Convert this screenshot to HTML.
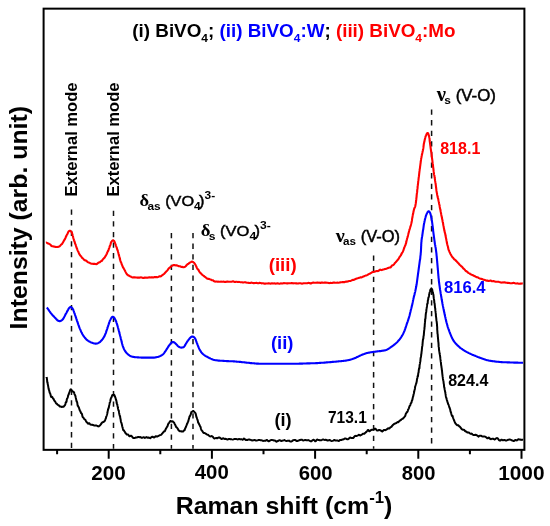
<!DOCTYPE html>
<html><head><meta charset="utf-8"><style>html,body{margin:0;padding:0;background:#fff;overflow:hidden;}svg{display:block;}</style></head>
<body><svg width="550" height="526" viewBox="0 0 550 526">
<rect width="550" height="526" fill="#fff"/>
<rect x="43.6" y="8.65" width="480.8" height="441.2" fill="none" stroke="#000" stroke-width="2.0"/>
<path d="M57.1,449.8 V454.3 M108.7,449.8 V458.8 M160.3,449.8 V454.3 M211.9,449.8 V458.8 M263.5,449.8 V454.3 M315.1,449.8 V458.8 M366.7,449.8 V454.3 M418.3,449.8 V458.8 M469.9,449.8 V454.3 M521.5,449.8 V458.8" stroke="#000" stroke-width="2" fill="none"/>
<path d="M71.5,209.5 V448.8 M113.5,210.7 V448.8 M171.4,233 V448.8 M193.0,233 V448.8 M373.6,255.5 V448.8 M431.6,109.5 V448.8" stroke="#111" stroke-width="1.5" stroke-dasharray="5.3,5.3" fill="none"/>
<path d="M46.0,242.8 L46.4,242.6 L47.0,242.9 L47.6,243.3 L48.2,243.6 L48.9,243.8 L49.6,244.1 L50.2,244.5 L50.9,245.2 L51.5,246.0 L52.2,246.2 L52.8,246.2 L53.5,246.5 L54.2,246.6 L54.9,246.7 L55.6,246.9 L56.4,247.0 L57.1,247.0 L57.8,246.9 L58.5,246.7 L59.2,246.4 L59.8,246.2 L60.3,245.6 L60.9,244.9 L61.4,244.3 L61.9,244.0 L62.3,243.5 L62.8,242.7 L63.2,242.0 L63.6,241.4 L63.9,240.6 L64.3,240.0 L64.7,239.5 L65.1,238.9 L65.4,238.2 L65.7,237.3 L66.1,236.4 L66.4,235.9 L66.7,235.2 L67.0,234.4 L67.4,234.0 L67.7,233.4 L68.0,232.6 L68.4,231.8 L68.7,231.3 L69.1,231.0 L69.6,230.8 L70.1,230.7 L70.6,230.9 L71.0,231.4 L71.4,231.8 L71.8,232.4 L72.0,233.2 L72.3,234.0 L72.5,234.6 L72.6,235.2 L72.8,235.9 L73.0,236.5 L73.2,237.5 L73.4,238.3 L73.6,238.8 L73.8,239.5 L74.0,240.3 L74.3,241.0 L74.5,241.5 L74.8,242.3 L75.0,243.4 L75.3,244.0 L75.5,244.4 L75.8,245.1 L76.0,246.0 L76.3,246.8 L76.5,247.6 L76.8,248.1 L77.1,248.8 L77.3,249.6 L77.6,250.4 L77.9,251.0 L78.2,251.5 L78.5,252.2 L78.9,253.2 L79.2,253.9 L79.6,254.5 L80.0,255.2 L80.4,255.7 L80.8,256.1 L81.3,256.6 L81.7,257.3 L82.2,258.0 L82.7,258.3 L83.3,258.8 L83.8,259.4 L84.4,260.0 L85.1,260.4 L85.7,260.5 L86.3,260.8 L87.0,261.4 L87.7,262.1 L88.3,262.4 L89.0,262.6 L89.7,262.9 L90.3,263.2 L91.0,263.5 L91.7,263.7 L92.5,263.8 L93.2,263.9 L93.9,263.9 L94.7,263.9 L95.4,264.0 L96.2,264.1 L96.9,264.0 L97.6,263.4 L98.3,262.8 L99.0,262.5 L99.6,262.3 L100.3,261.8 L100.9,261.3 L101.5,261.1 L102.0,260.7 L102.5,259.8 L103.0,259.1 L103.5,258.7 L103.9,258.3 L104.4,257.9 L104.8,257.4 L105.2,256.6 L105.6,255.9 L106.0,255.3 L106.3,254.8 L106.7,254.1 L107.0,253.3 L107.3,252.4 L107.7,251.6 L108.0,251.1 L108.3,250.6 L108.6,249.9 L108.8,249.0 L109.1,248.3 L109.4,247.6 L109.6,246.8 L109.8,246.0 L110.1,245.7 L110.3,245.2 L110.6,244.2 L110.8,243.2 L111.1,242.3 L111.4,241.7 L111.7,241.4 L112.1,240.9 L112.6,240.5 L113.1,240.3 L113.5,240.5 L113.9,240.8 L114.3,241.2 L114.6,241.9 L114.8,242.7 L115.1,243.4 L115.4,244.0 L115.7,244.7 L115.9,245.5 L116.2,246.4 L116.5,247.0 L116.7,247.7 L117.0,248.6 L117.2,249.4 L117.4,250.0 L117.7,250.4 L117.9,251.2 L118.1,252.0 L118.3,252.7 L118.5,253.6 L118.7,254.4 L118.9,255.1 L119.1,255.8 L119.3,256.6 L119.5,257.1 L119.7,257.8 L119.8,258.6 L120.0,259.4 L120.3,260.3 L120.5,261.1 L120.7,261.8 L121.0,262.2 L121.2,262.7 L121.5,263.5 L121.7,264.3 L122.0,264.9 L122.3,265.6 L122.6,266.4 L122.9,267.1 L123.3,267.7 L123.6,268.3 L123.9,268.9 L124.3,269.4 L124.6,270.0 L125.0,270.7 L125.4,271.6 L125.8,272.4 L126.1,273.0 L126.6,273.7 L127.0,274.4 L127.5,274.8 L128.0,275.2 L128.6,275.5 L129.2,275.8 L129.9,276.2 L130.6,276.5 L131.3,276.9 L132.0,277.2 L132.7,277.4 L133.5,277.4 L134.2,277.3 L135.0,277.4 L135.7,277.5 L136.5,277.5 L137.2,277.6 L138.0,277.6 L138.7,277.6 L139.5,277.6 L140.2,277.5 L140.9,277.4 L141.7,277.5 L142.4,277.7 L143.2,278.0 L143.9,277.9 L144.7,277.6 L145.4,277.6 L146.2,277.7 L146.9,277.6 L147.7,277.7 L148.4,277.5 L149.2,277.3 L149.9,277.4 L150.7,277.5 L151.4,277.4 L152.2,277.3 L152.9,277.5 L153.7,277.4 L154.4,277.1 L155.2,277.0 L155.9,277.1 L156.7,277.1 L157.4,277.2 L158.2,277.0 L158.9,276.5 L159.6,276.3 L160.3,276.4 L161.0,276.3 L161.6,275.7 L162.2,275.2 L162.8,274.8 L163.4,274.4 L164.0,274.0 L164.5,273.4 L165.1,272.8 L165.6,272.3 L166.1,271.7 L166.6,271.1 L167.1,270.7 L167.6,270.1 L168.1,269.3 L168.6,268.6 L169.0,268.1 L169.6,267.8 L170.1,267.4 L170.6,266.9 L171.2,266.5 L171.8,266.0 L172.5,265.5 L173.1,265.3 L173.8,265.1 L174.5,265.0 L175.3,265.2 L176.0,265.4 L176.7,265.4 L177.4,265.5 L178.1,266.0 L178.9,266.3 L179.6,266.3 L180.3,266.4 L181.0,266.8 L181.7,267.0 L182.4,266.9 L183.1,267.2 L183.8,267.2 L184.5,266.9 L185.1,266.7 L185.7,266.2 L186.3,265.5 L186.8,264.9 L187.4,264.3 L187.9,264.0 L188.5,263.7 L189.0,263.2 L189.6,262.8 L190.2,262.4 L190.9,262.1 L191.5,261.7 L192.2,261.5 L192.8,261.9 L193.5,262.4 L194.0,262.7 L194.5,263.3 L195.0,264.0 L195.3,264.6 L195.7,265.1 L196.0,265.9 L196.4,266.8 L196.7,267.5 L197.1,268.3 L197.5,269.0 L197.9,269.4 L198.3,269.7 L198.7,270.3 L199.1,271.2 L199.6,272.0 L200.0,272.6 L200.5,273.1 L201.0,273.6 L201.5,274.1 L202.0,274.6 L202.5,275.0 L203.1,275.4 L203.7,275.8 L204.3,276.4 L204.9,276.8 L205.5,277.2 L206.2,277.8 L206.9,278.3 L207.6,278.8 L208.3,278.9 L209.0,278.8 L209.7,279.2 L210.4,279.4 L211.1,279.7 L211.7,280.1 L212.4,280.2 L213.0,280.3 L213.7,281.0 L214.4,281.4 L215.1,281.6 L215.8,281.5 L216.6,281.5 L217.3,281.7 L218.1,281.6 L218.8,281.7 L219.6,281.8 L220.3,281.7 L221.1,281.6 L221.8,281.7 L222.6,281.7 L223.3,281.6 L224.1,281.7 L224.8,281.9 L225.6,282.0 L226.3,281.7 L227.1,281.5 L227.8,281.6 L228.6,281.7 L229.3,281.7 L230.1,281.8 L230.8,281.8 L231.6,281.7 L232.3,281.5 L233.1,281.3 L233.8,281.6 L234.6,282.0 L235.3,281.9 L236.1,281.7 L236.8,281.8 L237.6,282.0 L238.3,282.0 L239.1,281.9 L239.8,282.1 L240.6,282.3 L241.3,282.3 L242.1,282.3 L242.8,282.5 L243.6,282.5 L244.3,282.3 L245.1,282.3 L245.8,282.4 L246.6,282.6 L247.3,282.7 L248.0,282.8 L248.8,282.9 L249.5,283.0 L250.3,283.0 L251.0,282.7 L251.8,282.6 L252.5,282.9 L253.3,283.1 L254.0,283.1 L254.8,283.0 L255.5,283.0 L256.3,282.9 L257.0,283.0 L257.8,283.2 L258.5,283.2 L259.3,282.9 L260.0,282.9 L260.8,283.1 L261.5,283.4 L262.3,283.3 L263.0,283.2 L263.8,283.5 L264.5,283.6 L265.3,283.6 L266.0,283.5 L266.8,283.5 L267.5,283.5 L268.3,283.4 L269.0,283.4 L269.8,283.5 L270.5,283.6 L271.3,283.5 L272.0,283.2 L272.8,283.4 L273.5,283.5 L274.3,283.4 L275.0,283.5 L275.8,283.6 L276.5,283.5 L277.3,283.3 L278.0,283.4 L278.8,283.6 L279.5,283.7 L280.3,283.5 L281.0,283.4 L281.8,283.5 L282.5,283.5 L283.3,283.2 L284.0,283.1 L284.8,283.2 L285.5,283.2 L286.3,283.2 L287.0,283.4 L287.8,283.4 L288.5,283.3 L289.3,283.3 L290.0,283.2 L290.8,283.2 L291.5,283.1 L292.3,283.1 L293.0,283.4 L293.8,283.3 L294.5,283.2 L295.3,283.3 L296.0,283.4 L296.8,283.4 L297.5,283.5 L298.3,283.5 L299.0,283.3 L299.8,283.2 L300.5,283.3 L301.3,283.5 L302.0,283.6 L302.8,283.5 L303.5,283.3 L304.3,283.2 L305.0,283.2 L305.8,283.2 L306.5,283.2 L307.3,283.2 L308.0,283.0 L308.8,282.9 L309.5,283.1 L310.3,283.4 L311.0,283.4 L311.8,283.1 L312.5,282.7 L313.3,282.5 L314.0,282.7 L314.8,282.7 L315.5,282.7 L316.3,282.7 L317.0,282.6 L317.8,282.6 L318.5,282.7 L319.3,282.6 L320.0,282.9 L320.8,282.9 L321.5,282.5 L322.3,282.5 L323.0,282.7 L323.8,282.7 L324.5,282.5 L325.3,282.6 L326.0,282.6 L326.8,282.7 L327.5,282.8 L328.3,282.9 L329.0,283.1 L329.8,283.0 L330.5,282.9 L331.3,283.0 L332.0,283.0 L332.8,282.7 L333.5,282.5 L334.3,282.6 L335.0,282.8 L335.8,282.8 L336.5,282.7 L337.3,282.6 L338.0,282.7 L338.8,282.7 L339.5,282.5 L340.3,282.4 L341.0,282.3 L341.8,282.2 L342.5,282.1 L343.2,282.1 L344.0,282.1 L344.7,282.1 L345.5,281.8 L346.2,281.6 L347.0,281.6 L347.7,281.5 L348.4,281.2 L349.2,281.0 L349.9,281.0 L350.6,280.9 L351.3,280.6 L352.0,280.2 L352.7,279.9 L353.4,279.9 L354.1,279.8 L354.8,279.4 L355.5,279.0 L356.2,278.7 L356.9,278.4 L357.7,278.2 L358.4,278.0 L359.1,277.9 L359.8,277.6 L360.5,277.3 L361.2,277.4 L362.0,277.2 L362.7,276.8 L363.4,276.5 L364.1,276.3 L364.8,275.9 L365.5,275.6 L366.2,275.4 L366.8,275.2 L367.5,274.9 L368.2,274.5 L368.9,274.0 L369.6,273.8 L370.2,273.5 L370.9,273.0 L371.6,272.6 L372.2,272.2 L372.9,271.9 L373.6,272.0 L374.3,271.8 L375.1,271.5 L375.8,271.3 L376.5,271.0 L377.2,271.0 L378.0,271.1 L378.7,270.8 L379.5,270.0 L380.2,269.6 L380.9,269.9 L381.7,270.1 L382.4,269.8 L383.1,269.6 L383.8,269.4 L384.5,269.1 L385.3,269.0 L386.0,268.9 L386.7,268.6 L387.4,268.3 L388.1,268.0 L388.8,267.7 L389.5,267.5 L390.2,267.5 L390.8,267.2 L391.4,266.3 L392.0,265.5 L392.6,265.3 L393.2,265.0 L393.7,264.7 L394.2,264.1 L394.7,263.2 L395.2,262.7 L395.7,262.3 L396.2,261.7 L396.7,261.1 L397.1,260.6 L397.6,260.0 L398.1,259.5 L398.5,258.9 L398.9,258.2 L399.3,257.4 L399.7,256.8 L400.2,256.2 L400.6,255.7 L401.0,255.1 L401.4,254.3 L401.7,253.4 L402.1,252.8 L402.5,252.3 L402.8,251.7 L403.1,251.0 L403.4,250.4 L403.6,249.7 L403.9,248.7 L404.2,248.0 L404.4,247.4 L404.7,246.7 L405.0,245.9 L405.2,245.5 L405.5,245.0 L405.7,244.1 L405.9,243.5 L406.1,243.0 L406.3,242.1 L406.5,241.0 L406.7,240.2 L406.9,239.6 L407.1,238.7 L407.3,237.8 L407.5,237.3 L407.7,236.7 L407.9,235.9 L408.0,235.3 L408.2,234.6 L408.4,233.7 L408.6,232.9 L408.8,232.4 L408.9,231.8 L409.1,231.0 L409.3,230.3 L409.5,229.5 L409.8,228.8 L410.0,228.1 L410.2,227.3 L410.4,226.6 L410.7,225.9 L410.9,225.1 L411.1,224.2 L411.3,223.5 L411.4,223.1 L411.6,222.3 L411.7,221.5 L411.9,220.7 L412.0,219.9 L412.1,219.0 L412.2,218.2 L412.4,217.6 L412.5,216.9 L412.6,216.1 L412.7,215.5 L412.8,214.8 L413.0,214.2 L413.1,213.7 L413.3,213.0 L413.4,212.1 L413.6,211.2 L413.8,210.2 L414.0,209.4 L414.3,208.7 L414.5,207.9 L414.7,207.4 L415.0,207.1 L415.2,206.5 L415.4,205.6 L415.5,204.7 L415.7,203.9 L415.8,203.2 L415.9,202.5 L416.0,201.8 L416.0,201.3 L416.1,200.8 L416.2,200.0 L416.3,199.2 L416.4,198.2 L416.5,197.3 L416.6,196.8 L416.6,196.1 L416.7,195.1 L416.8,194.1 L416.9,193.3 L417.0,192.7 L417.1,192.2 L417.2,191.3 L417.2,190.4 L417.3,189.6 L417.4,189.1 L417.5,188.5 L417.6,187.7 L417.6,186.8 L417.7,186.0 L417.8,185.5 L417.9,184.7 L418.0,183.9 L418.1,183.0 L418.2,182.1 L418.2,181.4 L418.3,180.9 L418.4,180.3 L418.5,179.6 L418.6,178.7 L418.7,177.6 L418.8,177.0 L418.9,176.4 L419.0,175.6 L419.1,174.6 L419.2,173.9 L419.2,173.4 L419.3,172.8 L419.4,171.8 L419.5,171.1 L419.6,170.4 L419.7,169.4 L419.8,168.8 L419.9,168.5 L420.0,167.6 L420.1,166.7 L420.2,165.9 L420.3,165.3 L420.4,164.4 L420.5,163.7 L420.6,163.0 L420.7,162.2 L420.8,161.5 L420.9,160.6 L421.0,159.8 L421.1,159.2 L421.2,158.5 L421.3,157.9 L421.5,157.2 L421.6,156.3 L421.8,155.5 L421.9,154.7 L422.1,154.1 L422.2,153.5 L422.4,152.7 L422.5,152.0 L422.7,151.2 L422.9,150.4 L423.0,149.7 L423.2,148.9 L423.3,148.3 L423.4,147.7 L423.5,146.7 L423.6,145.8 L423.7,145.0 L423.8,144.2 L423.9,143.5 L424.1,142.9 L424.2,142.2 L424.3,141.7 L424.5,141.1 L424.6,140.3 L424.8,139.5 L425.0,138.7 L425.2,137.9 L425.4,137.0 L425.7,136.2 L425.9,135.8 L426.1,135.4 L426.4,134.6 L426.7,133.9 L427.0,133.5 L427.4,133.1 L427.8,133.0 L428.1,133.4 L428.4,134.0 L428.7,135.0 L428.9,135.9 L429.1,136.4 L429.2,136.9 L429.3,137.7 L429.5,138.4 L429.6,139.1 L429.6,140.0 L429.7,141.0 L429.8,141.7 L429.9,142.3 L430.0,142.8 L430.1,143.6 L430.2,144.7 L430.3,145.4 L430.4,145.9 L430.5,146.7 L430.6,147.6 L430.7,148.4 L430.8,149.1 L430.9,149.7 L431.0,150.5 L431.1,151.3 L431.2,151.9 L431.3,152.2 L431.4,152.8 L431.5,153.7 L431.6,154.7 L431.7,155.7 L431.8,156.6 L431.9,157.3 L432.0,157.9 L432.1,158.7 L432.2,159.5 L432.3,160.2 L432.4,161.0 L432.5,161.8 L432.6,162.6 L432.7,163.3 L432.8,164.0 L432.9,164.6 L433.0,165.2 L433.0,165.9 L433.1,166.7 L433.2,167.5 L433.3,168.2 L433.4,168.9 L433.5,169.8 L433.6,170.8 L433.7,171.7 L433.8,172.4 L433.9,173.1 L434.0,173.9 L434.1,174.7 L434.2,175.1 L434.4,175.7 L434.5,176.6 L434.6,177.3 L434.7,177.8 L434.8,178.4 L434.9,179.2 L435.0,180.0 L435.1,180.9 L435.3,181.9 L435.4,182.5 L435.5,182.9 L435.6,183.5 L435.7,184.3 L435.8,185.1 L435.9,186.0 L436.0,186.8 L436.1,187.5 L436.2,188.3 L436.3,189.3 L436.4,190.2 L436.5,191.0 L436.6,191.5 L436.7,192.2 L436.8,192.8 L437.0,193.5 L437.1,194.3 L437.2,195.0 L437.4,195.6 L437.5,196.3 L437.7,197.2 L437.9,198.0 L438.1,198.5 L438.3,199.3 L438.4,200.2 L438.6,200.9 L438.7,201.5 L438.9,202.3 L439.0,203.2 L439.2,204.1 L439.3,204.7 L439.5,205.0 L439.6,205.6 L439.7,206.7 L439.9,207.7 L440.0,208.4 L440.2,209.1 L440.3,209.6 L440.5,210.3 L440.6,211.2 L440.8,212.1 L440.9,212.7 L441.0,213.3 L441.2,214.0 L441.3,214.9 L441.5,215.7 L441.6,216.3 L441.8,216.9 L441.9,217.8 L442.1,218.7 L442.2,219.3 L442.4,219.8 L442.5,220.5 L442.6,221.4 L442.8,222.2 L442.9,222.8 L443.1,223.5 L443.2,224.6 L443.4,225.4 L443.5,226.0 L443.7,226.8 L443.8,227.6 L443.9,228.3 L444.1,229.1 L444.2,229.9 L444.4,230.6 L444.5,231.2 L444.7,231.8 L444.8,232.5 L445.0,233.0 L445.2,233.7 L445.3,234.6 L445.5,235.4 L445.6,236.1 L445.8,236.9 L445.9,237.8 L446.1,238.5 L446.2,239.0 L446.4,239.9 L446.5,240.7 L446.7,241.4 L446.8,242.3 L447.0,243.2 L447.1,243.9 L447.3,244.3 L447.4,245.0 L447.6,245.7 L447.8,246.1 L447.9,246.6 L448.1,247.5 L448.3,248.6 L448.5,249.6 L448.8,250.2 L449.0,250.6 L449.3,251.3 L449.6,252.1 L449.9,252.8 L450.2,253.4 L450.6,254.2 L451.0,254.9 L451.4,255.5 L451.8,256.2 L452.3,257.0 L452.7,257.5 L453.2,257.9 L453.7,258.7 L454.2,259.3 L454.8,259.6 L455.3,260.0 L455.8,260.6 L456.4,261.1 L456.9,261.7 L457.4,262.3 L457.9,262.8 L458.4,263.1 L458.9,263.8 L459.4,264.5 L459.9,265.0 L460.5,265.4 L461.0,265.9 L461.5,266.4 L462.0,266.8 L462.6,267.4 L463.1,268.2 L463.6,268.7 L464.2,269.1 L464.7,269.7 L465.3,270.4 L465.9,271.0 L466.4,271.3 L467.0,271.6 L467.6,272.1 L468.2,272.8 L468.8,273.1 L469.5,273.4 L470.1,273.9 L470.7,274.3 L471.4,274.6 L472.0,274.9 L472.7,275.1 L473.4,275.5 L474.1,275.9 L474.7,276.1 L475.4,276.5 L476.1,277.0 L476.8,277.2 L477.5,277.2 L478.2,277.6 L478.9,278.1 L479.6,278.4 L480.3,278.7 L480.9,278.8 L481.6,278.9 L482.3,279.1 L483.1,279.5 L483.8,279.8 L484.5,279.9 L485.2,280.1 L486.0,280.5 L486.7,280.6 L487.4,280.6 L488.2,280.9 L488.9,281.0 L489.7,280.8 L490.4,280.5 L491.1,280.8 L491.9,281.2 L492.6,281.2 L493.4,281.0 L494.1,281.2 L494.9,281.6 L495.6,281.8 L496.4,281.7 L497.1,281.8 L497.8,281.8 L498.6,281.8 L499.3,282.0 L500.1,282.2 L500.8,282.4 L501.6,282.6 L502.3,282.5 L503.1,282.4 L503.8,282.5 L504.6,282.4 L505.3,282.5 L506.1,282.8 L506.8,282.8 L507.6,282.9 L508.3,283.0 L509.0,282.9 L509.8,283.1 L510.5,283.2 L511.3,283.2 L512.0,283.2 L512.8,283.0 L513.5,282.9 L514.3,283.0 L515.0,283.3 L515.8,283.5 L516.5,283.5 L517.3,283.4 L518.0,283.5 L518.8,283.7 L519.5,283.8 L520.3,283.6 L521.0,283.6 L521.7,283.5 L522.3,283.5 L522.8,283.6" stroke="#ff0000" stroke-width="2.1" fill="none" stroke-linejoin="round"/>
<path d="M46.8,307.6 L47.2,308.0 L47.6,308.4 L48.0,309.0 L48.4,309.6 L48.8,310.2 L49.2,310.8 L49.7,311.5 L50.1,312.1 L50.5,312.7 L51.0,313.3 L51.5,313.9 L51.9,314.4 L52.4,315.0 L52.9,315.5 L53.4,316.1 L54.0,316.6 L54.5,317.2 L55.0,317.7 L55.5,318.3 L56.0,318.8 L56.5,319.4 L57.1,319.9 L57.6,320.4 L58.2,320.8 L58.8,321.0 L59.5,321.1 L60.2,321.1 L60.9,320.8 L61.5,320.5 L62.1,320.1 L62.6,319.6 L63.1,319.0 L63.5,318.4 L63.8,317.7 L64.2,317.0 L64.5,316.4 L64.9,315.7 L65.2,315.0 L65.6,314.4 L65.9,313.7 L66.3,313.1 L66.7,312.4 L67.0,311.7 L67.4,311.1 L67.7,310.4 L68.1,309.8 L68.5,309.1 L68.8,308.5 L69.2,307.9 L69.7,307.4 L70.2,307.1 L70.8,307.0 L71.3,307.2 L71.8,307.7 L72.3,308.2 L72.7,308.8 L73.1,309.5 L73.4,310.1 L73.6,310.8 L73.9,311.5 L74.1,312.3 L74.4,313.0 L74.6,313.7 L74.9,314.4 L75.1,315.1 L75.4,315.8 L75.6,316.5 L75.8,317.2 L76.1,317.9 L76.3,318.6 L76.6,319.4 L76.8,320.1 L77.0,320.8 L77.3,321.5 L77.5,322.2 L77.8,322.9 L78.0,323.6 L78.2,324.3 L78.5,325.0 L78.7,325.7 L79.0,326.5 L79.2,327.2 L79.5,327.9 L79.8,328.6 L80.1,329.2 L80.4,329.9 L80.7,330.6 L81.0,331.3 L81.3,332.0 L81.6,332.6 L82.0,333.3 L82.3,334.0 L82.7,334.6 L83.1,335.3 L83.5,335.9 L84.0,336.5 L84.4,337.1 L84.9,337.7 L85.3,338.3 L85.8,338.8 L86.4,339.4 L86.9,339.9 L87.5,340.3 L88.1,340.8 L88.7,341.2 L89.4,341.5 L90.1,341.9 L90.7,342.2 L91.4,342.5 L92.1,342.7 L92.8,343.0 L93.5,343.2 L94.2,343.4 L95.0,343.6 L95.7,343.6 L96.4,343.6 L97.1,343.4 L97.8,343.2 L98.5,342.9 L99.1,342.5 L99.8,342.1 L100.4,341.6 L100.9,341.1 L101.4,340.6 L101.9,340.0 L102.4,339.4 L102.8,338.8 L103.2,338.2 L103.6,337.6 L104.0,336.9 L104.4,336.3 L104.7,335.6 L105.0,334.9 L105.3,334.2 L105.6,333.5 L105.9,332.8 L106.1,332.1 L106.3,331.4 L106.6,330.7 L106.8,330.0 L107.0,329.3 L107.3,328.6 L107.5,327.9 L107.7,327.1 L108.0,326.4 L108.2,325.7 L108.4,325.0 L108.7,324.3 L108.9,323.6 L109.1,322.9 L109.4,322.1 L109.6,321.4 L109.9,320.7 L110.2,320.1 L110.5,319.4 L110.9,318.7 L111.2,318.1 L111.7,317.5 L112.1,317.0 L112.6,316.8 L113.2,316.8 L113.7,317.1 L114.1,317.6 L114.5,318.2 L114.9,318.8 L115.2,319.5 L115.6,320.1 L115.9,320.8 L116.1,321.5 L116.4,322.2 L116.6,323.0 L116.8,323.7 L117.1,324.4 L117.3,325.1 L117.5,325.8 L117.7,326.5 L117.9,327.3 L118.1,328.0 L118.3,328.7 L118.5,329.4 L118.7,330.2 L118.9,330.9 L119.1,331.6 L119.3,332.3 L119.4,333.1 L119.6,333.8 L119.8,334.5 L120.0,335.2 L120.2,336.0 L120.4,336.7 L120.6,337.4 L120.7,338.2 L120.9,338.9 L121.1,339.6 L121.3,340.3 L121.5,341.1 L121.6,341.8 L121.8,342.5 L122.0,343.2 L122.2,344.0 L122.4,344.7 L122.6,345.4 L122.8,346.1 L123.1,346.8 L123.3,347.5 L123.6,348.2 L123.9,348.9 L124.3,349.6 L124.6,350.2 L125.0,350.9 L125.4,351.5 L125.9,352.1 L126.3,352.7 L126.8,353.3 L127.4,353.8 L127.9,354.3 L128.5,354.7 L129.1,355.2 L129.7,355.6 L130.4,356.0 L131.0,356.3 L131.7,356.6 L132.4,356.8 L133.2,356.9 L133.9,357.0 L134.7,357.1 L135.4,357.2 L136.1,357.3 L136.9,357.3 L137.6,357.4 L138.4,357.4 L139.1,357.5 L139.9,357.5 L140.6,357.5 L141.4,357.6 L142.1,357.6 L142.9,357.6 L143.6,357.6 L144.4,357.6 L145.1,357.6 L145.9,357.6 L146.6,357.6 L147.4,357.6 L148.1,357.6 L148.9,357.6 L149.6,357.6 L150.4,357.6 L151.1,357.6 L151.9,357.6 L152.6,357.6 L153.4,357.6 L154.1,357.6 L154.9,357.5 L155.6,357.4 L156.4,357.3 L157.1,357.1 L157.8,356.9 L158.5,356.7 L159.2,356.4 L159.9,356.2 L160.6,355.8 L161.2,355.5 L161.9,355.1 L162.5,354.7 L163.1,354.2 L163.6,353.7 L164.1,353.1 L164.5,352.5 L164.9,351.9 L165.3,351.3 L165.8,350.6 L166.2,350.0 L166.6,349.4 L167.0,348.7 L167.4,348.1 L167.8,347.5 L168.2,346.8 L168.6,346.2 L169.0,345.6 L169.5,345.0 L170.0,344.4 L170.4,343.8 L170.9,343.3 L171.4,342.7 L172.0,342.3 L172.6,342.1 L173.2,342.0 L173.8,342.2 L174.4,342.5 L175.0,343.0 L175.5,343.5 L176.0,344.1 L176.5,344.6 L177.0,345.1 L177.6,345.7 L178.1,346.2 L178.7,346.7 L179.3,347.1 L179.9,347.3 L180.6,347.5 L181.3,347.6 L182.1,347.5 L182.8,347.4 L183.4,347.2 L184.0,346.8 L184.4,346.3 L184.8,345.7 L185.2,345.1 L185.5,344.4 L185.9,343.7 L186.3,343.1 L186.7,342.5 L187.1,341.8 L187.5,341.2 L188.0,340.6 L188.4,340.0 L188.9,339.4 L189.3,338.8 L189.8,338.2 L190.3,337.7 L190.8,337.2 L191.4,336.8 L192.0,336.6 L192.6,336.6 L193.3,336.8 L193.9,337.1 L194.4,337.6 L194.9,338.2 L195.3,338.8 L195.6,339.5 L195.9,340.2 L196.1,340.9 L196.4,341.6 L196.6,342.3 L196.9,343.0 L197.2,343.7 L197.4,344.4 L197.7,345.1 L198.0,345.8 L198.2,346.5 L198.5,347.2 L198.8,347.9 L199.1,348.5 L199.4,349.2 L199.8,349.9 L200.2,350.5 L200.6,351.2 L201.0,351.8 L201.4,352.4 L201.9,353.0 L202.4,353.5 L202.9,354.0 L203.5,354.5 L204.1,355.0 L204.7,355.4 L205.3,355.8 L206.0,356.2 L206.6,356.5 L207.3,356.9 L208.0,357.3 L208.6,357.6 L209.3,358.0 L210.0,358.3 L210.6,358.6 L211.3,358.9 L212.0,359.2 L212.7,359.5 L213.4,359.7 L214.1,359.9 L214.9,360.1 L215.6,360.2 L216.3,360.3 L217.1,360.4 L217.8,360.5 L218.6,360.6 L219.3,360.6 L220.1,360.7 L220.8,360.7 L221.6,360.8 L222.3,360.8 L223.1,360.9 L223.8,360.9 L224.6,361.0 L225.3,361.0 L226.1,361.0 L226.8,361.1 L227.6,361.1 L228.3,361.1 L229.1,361.2 L229.8,361.2 L230.6,361.2 L231.3,361.3 L232.1,361.3 L232.8,361.3 L233.5,361.4 L234.3,361.4 L235.0,361.5 L235.8,361.5 L236.5,361.6 L237.3,361.7 L238.0,361.7 L238.8,361.8 L239.5,361.9 L240.3,361.9 L241.0,362.0 L241.8,362.1 L242.5,362.2 L243.3,362.3 L244.0,362.3 L244.7,362.4 L245.5,362.5 L246.2,362.6 L247.0,362.7 L247.7,362.8 L248.5,362.8 L249.2,362.9 L250.0,363.0 L250.7,363.1 L251.5,363.1 L252.2,363.2 L253.0,363.3 L253.7,363.3 L254.4,363.4 L255.2,363.5 L255.9,363.5 L256.7,363.6 L257.4,363.6 L258.2,363.6 L258.9,363.7 L259.7,363.7 L260.4,363.7 L261.2,363.7 L261.9,363.7 L262.7,363.7 L263.4,363.7 L264.2,363.7 L264.9,363.7 L265.7,363.7 L266.4,363.7 L267.2,363.7 L267.9,363.7 L268.7,363.8 L269.4,363.8 L270.2,363.8 L270.9,363.8 L271.7,363.8 L272.4,363.8 L273.2,363.8 L273.9,363.8 L274.7,363.8 L275.4,363.8 L276.2,363.8 L276.9,363.8 L277.7,363.8 L278.4,363.8 L279.2,363.8 L279.9,363.8 L280.7,363.8 L281.4,363.8 L282.2,363.8 L282.9,363.8 L283.7,363.8 L284.4,363.8 L285.2,363.8 L285.9,363.8 L286.7,363.8 L287.4,363.8 L288.2,363.8 L288.9,363.8 L289.7,363.8 L290.4,363.8 L291.2,363.8 L291.9,363.8 L292.7,363.8 L293.4,363.7 L294.2,363.7 L294.9,363.7 L295.7,363.7 L296.4,363.7 L297.2,363.7 L297.9,363.7 L298.7,363.7 L299.4,363.6 L300.2,363.6 L300.9,363.6 L301.7,363.6 L302.4,363.6 L303.2,363.5 L303.9,363.5 L304.7,363.5 L305.4,363.5 L306.2,363.5 L306.9,363.4 L307.7,363.4 L308.4,363.4 L309.2,363.4 L309.9,363.4 L310.7,363.3 L311.4,363.3 L312.2,363.3 L312.9,363.3 L313.7,363.2 L314.4,363.2 L315.2,363.2 L315.9,363.1 L316.7,363.1 L317.4,363.1 L318.2,363.0 L318.9,363.0 L319.7,362.9 L320.4,362.9 L321.2,362.8 L321.9,362.8 L322.7,362.7 L323.4,362.7 L324.2,362.6 L324.9,362.6 L325.7,362.5 L326.4,362.4 L327.2,362.4 L327.9,362.3 L328.6,362.2 L329.4,362.2 L330.1,362.1 L330.9,362.1 L331.6,362.0 L332.4,361.9 L333.1,361.9 L333.9,361.8 L334.6,361.7 L335.4,361.7 L336.1,361.6 L336.9,361.5 L337.6,361.5 L338.4,361.4 L339.1,361.3 L339.9,361.3 L340.6,361.2 L341.3,361.1 L342.1,361.0 L342.8,361.0 L343.6,360.9 L344.3,360.8 L345.1,360.7 L345.8,360.6 L346.6,360.5 L347.3,360.3 L348.0,360.2 L348.8,360.0 L349.5,359.9 L350.2,359.7 L350.9,359.5 L351.7,359.3 L352.4,359.1 L353.1,358.8 L353.8,358.6 L354.5,358.3 L355.2,358.0 L355.9,357.7 L356.5,357.3 L357.2,357.0 L357.9,356.7 L358.6,356.4 L359.2,356.0 L359.9,355.7 L360.6,355.4 L361.3,355.1 L362.0,354.8 L362.7,354.5 L363.4,354.2 L364.1,354.0 L364.8,353.7 L365.5,353.5 L366.2,353.3 L366.9,353.1 L367.7,352.9 L368.4,352.8 L369.1,352.6 L369.9,352.5 L370.6,352.3 L371.3,352.2 L372.1,352.1 L372.8,352.0 L373.6,351.8 L374.3,351.7 L375.0,351.7 L375.8,351.6 L376.5,351.5 L377.3,351.4 L378.0,351.3 L378.8,351.2 L379.5,351.1 L380.3,351.1 L381.0,351.0 L381.7,350.9 L382.5,350.8 L383.2,350.6 L384.0,350.5 L384.7,350.4 L385.4,350.2 L386.1,350.0 L386.8,349.7 L387.5,349.4 L388.1,349.0 L388.8,348.6 L389.4,348.2 L390.0,347.8 L390.6,347.3 L391.2,346.9 L391.9,346.5 L392.5,346.0 L393.1,345.6 L393.7,345.1 L394.3,344.7 L394.8,344.2 L395.4,343.7 L396.0,343.2 L396.5,342.7 L397.1,342.2 L397.6,341.7 L398.1,341.1 L398.6,340.6 L399.1,340.0 L399.6,339.4 L400.0,338.8 L400.5,338.2 L400.9,337.6 L401.3,337.0 L401.7,336.3 L402.1,335.7 L402.5,335.0 L402.8,334.4 L403.2,333.7 L403.5,333.0 L403.8,332.4 L404.1,331.7 L404.4,331.0 L404.7,330.3 L404.9,329.6 L405.2,328.9 L405.4,328.2 L405.7,327.5 L405.9,326.7 L406.1,326.0 L406.4,325.3 L406.6,324.6 L406.8,323.9 L407.1,323.2 L407.3,322.5 L407.6,321.8 L407.8,321.1 L408.1,320.4 L408.3,319.6 L408.5,318.9 L408.8,318.2 L409.0,317.5 L409.2,316.8 L409.4,316.1 L409.6,315.3 L409.8,314.6 L409.9,313.9 L410.1,313.1 L410.3,312.4 L410.5,311.7 L410.6,311.0 L410.8,310.2 L411.0,309.5 L411.2,308.8 L411.4,308.0 L411.6,307.3 L411.7,306.6 L411.9,305.9 L412.1,305.1 L412.3,304.4 L412.4,303.7 L412.6,302.9 L412.7,302.2 L412.9,301.5 L413.0,300.7 L413.2,300.0 L413.3,299.3 L413.5,298.5 L413.7,297.8 L413.8,297.1 L414.0,296.3 L414.2,295.6 L414.4,294.9 L414.6,294.2 L414.7,293.4 L414.9,292.7 L415.1,292.0 L415.3,291.2 L415.4,290.5 L415.6,289.8 L415.7,289.0 L415.9,288.3 L416.0,287.6 L416.2,286.8 L416.3,286.1 L416.4,285.4 L416.6,284.6 L416.7,283.9 L416.8,283.1 L416.9,282.4 L417.0,281.7 L417.1,280.9 L417.2,280.2 L417.3,279.4 L417.4,278.7 L417.5,277.9 L417.6,277.2 L417.7,276.5 L417.8,275.7 L417.9,275.0 L418.0,274.2 L418.1,273.5 L418.2,272.7 L418.3,272.0 L418.4,271.3 L418.5,270.5 L418.6,269.8 L418.7,269.0 L418.8,268.3 L418.9,267.5 L419.0,266.8 L419.1,266.0 L419.2,265.3 L419.3,264.6 L419.4,263.8 L419.5,263.1 L419.6,262.3 L419.7,261.6 L419.8,260.8 L419.9,260.1 L420.1,259.4 L420.2,258.6 L420.3,257.9 L420.3,257.1 L420.4,256.4 L420.5,255.6 L420.6,254.9 L420.7,254.2 L420.7,253.4 L420.8,252.7 L420.9,251.9 L420.9,251.2 L421.0,250.4 L421.0,249.7 L421.0,248.9 L421.1,248.2 L421.1,247.4 L421.1,246.7 L421.2,245.9 L421.2,245.2 L421.2,244.4 L421.3,243.7 L421.3,242.9 L421.4,242.2 L421.5,241.4 L421.5,240.7 L421.6,239.9 L421.7,239.2 L421.8,238.5 L421.9,237.7 L422.0,237.0 L422.2,236.2 L422.3,235.5 L422.4,234.7 L422.5,234.0 L422.6,233.3 L422.7,232.5 L422.8,231.8 L422.9,231.0 L423.0,230.3 L423.2,229.6 L423.3,228.8 L423.4,228.1 L423.5,227.3 L423.6,226.6 L423.7,225.8 L423.8,225.1 L423.9,224.4 L424.1,223.6 L424.2,222.9 L424.4,222.2 L424.5,221.4 L424.7,220.7 L424.8,220.0 L425.0,219.2 L425.2,218.5 L425.4,217.8 L425.6,217.0 L425.8,216.3 L426.0,215.6 L426.3,214.9 L426.6,214.2 L426.9,213.5 L427.2,212.9 L427.5,212.2 L428.0,211.7 L428.4,211.4 L428.9,211.3 L429.3,211.6 L429.7,212.1 L430.0,212.7 L430.3,213.4 L430.5,214.1 L430.7,214.8 L430.9,215.6 L431.1,216.3 L431.2,217.0 L431.3,217.8 L431.5,218.5 L431.6,219.2 L431.7,220.0 L431.9,220.7 L432.0,221.5 L432.1,222.2 L432.2,222.9 L432.3,223.7 L432.4,224.4 L432.5,225.2 L432.6,225.9 L432.7,226.7 L432.8,227.4 L432.9,228.2 L433.0,228.9 L433.1,229.6 L433.1,230.4 L433.2,231.1 L433.3,231.9 L433.4,232.6 L433.5,233.4 L433.6,234.1 L433.7,234.9 L433.8,235.6 L433.9,236.3 L434.0,237.1 L434.1,237.8 L434.2,238.6 L434.3,239.3 L434.4,240.1 L434.5,240.8 L434.6,241.5 L434.7,242.3 L434.8,243.0 L434.9,243.8 L435.0,244.5 L435.2,245.2 L435.3,246.0 L435.4,246.7 L435.6,247.5 L435.7,248.2 L435.8,248.9 L435.9,249.7 L436.0,250.4 L436.1,251.2 L436.2,251.9 L436.3,252.7 L436.4,253.4 L436.5,254.2 L436.5,254.9 L436.6,255.6 L436.7,256.4 L436.8,257.1 L436.8,257.9 L436.9,258.6 L437.0,259.4 L437.0,260.1 L437.1,260.9 L437.2,261.6 L437.2,262.4 L437.3,263.1 L437.4,263.9 L437.4,264.6 L437.5,265.4 L437.6,266.1 L437.6,266.8 L437.7,267.6 L437.8,268.3 L437.8,269.1 L437.9,269.8 L438.0,270.6 L438.0,271.3 L438.1,272.1 L438.1,272.8 L438.2,273.6 L438.3,274.3 L438.3,275.1 L438.4,275.8 L438.5,276.6 L438.5,277.3 L438.6,278.1 L438.7,278.8 L438.8,279.5 L438.8,280.3 L438.9,281.0 L439.0,281.8 L439.1,282.5 L439.2,283.3 L439.3,284.0 L439.4,284.8 L439.5,285.5 L439.6,286.2 L439.7,287.0 L439.8,287.7 L439.9,288.5 L440.0,289.2 L440.1,290.0 L440.3,290.7 L440.4,291.4 L440.5,292.2 L440.6,292.9 L440.7,293.7 L440.9,294.4 L441.0,295.1 L441.1,295.9 L441.2,296.6 L441.4,297.4 L441.5,298.1 L441.6,298.8 L441.7,299.6 L441.9,300.3 L442.0,301.1 L442.1,301.8 L442.3,302.5 L442.4,303.3 L442.5,304.0 L442.7,304.7 L442.8,305.5 L443.0,306.2 L443.1,306.9 L443.3,307.7 L443.4,308.4 L443.6,309.2 L443.7,309.9 L443.9,310.6 L444.0,311.4 L444.2,312.1 L444.3,312.8 L444.5,313.6 L444.6,314.3 L444.8,315.0 L445.0,315.8 L445.1,316.5 L445.3,317.2 L445.5,317.9 L445.6,318.7 L445.8,319.4 L446.0,320.1 L446.1,320.9 L446.3,321.6 L446.5,322.3 L446.7,323.1 L446.9,323.8 L447.1,324.5 L447.3,325.2 L447.5,325.9 L447.7,326.7 L447.9,327.4 L448.2,328.1 L448.4,328.8 L448.7,329.5 L448.9,330.2 L449.2,330.9 L449.4,331.6 L449.7,332.3 L449.9,333.0 L450.2,333.7 L450.5,334.4 L450.8,335.1 L451.1,335.8 L451.4,336.5 L451.7,337.2 L452.0,337.8 L452.3,338.5 L452.7,339.2 L453.1,339.8 L453.4,340.5 L453.9,341.1 L454.3,341.7 L454.7,342.3 L455.2,342.9 L455.7,343.5 L456.2,344.0 L456.7,344.6 L457.2,345.1 L457.8,345.6 L458.3,346.2 L458.9,346.6 L459.4,347.1 L460.0,347.6 L460.6,348.1 L461.2,348.5 L461.8,348.9 L462.5,349.4 L463.1,349.8 L463.7,350.2 L464.3,350.6 L465.0,351.0 L465.6,351.4 L466.3,351.7 L466.9,352.1 L467.6,352.4 L468.3,352.8 L468.9,353.1 L469.6,353.4 L470.3,353.8 L471.0,354.1 L471.7,354.4 L472.3,354.7 L473.0,355.0 L473.7,355.3 L474.4,355.5 L475.1,355.8 L475.8,356.1 L476.5,356.4 L477.2,356.7 L477.9,357.0 L478.6,357.2 L479.3,357.5 L480.0,357.8 L480.7,358.1 L481.4,358.3 L482.1,358.6 L482.8,358.8 L483.5,359.1 L484.2,359.3 L484.9,359.5 L485.7,359.8 L486.4,360.0 L487.1,360.2 L487.8,360.3 L488.6,360.5 L489.3,360.7 L490.0,360.8 L490.8,360.9 L491.5,361.0 L492.2,361.1 L493.0,361.2 L493.7,361.3 L494.5,361.4 L495.2,361.5 L496.0,361.6 L496.7,361.7 L497.5,361.8 L498.2,361.8 L499.0,361.9 L499.7,362.0 L500.4,362.0 L501.2,362.1 L501.9,362.1 L502.7,362.2 L503.4,362.2 L504.2,362.2 L504.9,362.3 L505.7,362.3 L506.4,362.3 L507.2,362.4 L507.9,362.4 L508.7,362.4 L509.4,362.4 L510.2,362.5 L510.9,362.5 L511.7,362.5 L512.4,362.5 L513.2,362.5 L513.9,362.6 L514.7,362.6 L515.4,362.6 L516.2,362.6 L516.9,362.6 L517.7,362.6 L518.4,362.7 L519.2,362.7 L519.9,362.7 L520.7,362.7 L521.4,362.7 L522.1,362.7 L522.7,362.7 L523.0,362.7" stroke="#0000ff" stroke-width="2.1" fill="none" stroke-linejoin="round"/>
<path d="M46.6,377.1 L46.6,377.4 L46.7,377.5 L46.8,377.7 L46.9,378.5 L47.1,380.1 L47.2,381.7 L47.3,382.3 L47.5,382.1 L47.6,382.7 L47.7,384.1 L47.9,384.8 L48.0,385.2 L48.2,386.4 L48.4,387.5 L48.5,388.3 L48.7,389.0 L48.8,389.6 L49.0,390.0 L49.1,390.3 L49.3,391.0 L49.5,391.9 L49.7,392.8 L49.9,393.0 L50.2,393.5 L50.6,395.0 L50.9,396.3 L51.3,397.1 L51.7,397.1 L52.1,396.9 L52.5,397.4 L52.9,398.3 L53.3,398.8 L53.7,399.1 L54.1,400.2 L54.6,401.1 L55.1,401.4 L55.6,402.4 L56.1,403.3 L56.7,403.7 L57.3,404.3 L57.8,404.9 L58.4,405.1 L58.9,405.4 L59.4,406.0 L59.9,406.6 L60.5,406.6 L61.1,406.7 L61.8,407.0 L62.4,406.8 L63.1,406.8 L63.7,406.7 L64.2,406.0 L64.7,405.4 L65.1,405.0 L65.4,404.0 L65.7,402.5 L66.0,402.0 L66.3,402.1 L66.6,401.1 L66.8,399.4 L67.1,398.8 L67.3,398.5 L67.5,398.0 L67.7,397.5 L67.9,397.0 L68.0,396.1 L68.2,395.1 L68.4,395.0 L68.7,394.6 L68.9,393.5 L69.1,393.0 L69.4,392.5 L69.7,391.5 L70.1,390.4 L70.5,389.4 L71.0,389.3 L71.5,390.0 L72.0,390.7 L72.6,391.2 L73.0,391.7 L73.4,392.0 L73.8,392.0 L74.1,392.4 L74.3,393.5 L74.6,394.5 L74.8,394.8 L75.1,395.0 L75.3,395.6 L75.5,396.5 L75.7,397.4 L75.9,398.2 L76.1,399.1 L76.3,400.1 L76.5,401.1 L76.7,401.8 L76.9,401.6 L77.1,402.0 L77.4,403.8 L77.6,405.3 L77.8,405.9 L78.1,406.2 L78.3,406.7 L78.6,407.1 L78.8,407.3 L79.1,408.2 L79.4,409.2 L79.7,410.2 L80.0,411.0 L80.2,411.0 L80.6,411.8 L80.9,412.9 L81.2,413.1 L81.5,413.3 L81.9,413.9 L82.2,415.1 L82.5,416.6 L82.9,417.2 L83.3,417.5 L83.7,418.1 L84.1,418.9 L84.5,419.3 L85.0,419.4 L85.5,420.1 L86.0,421.2 L86.5,422.0 L87.0,422.3 L87.6,423.1 L88.2,423.7 L88.8,423.2 L89.4,423.3 L90.1,424.3 L90.8,424.7 L91.5,424.7 L92.2,424.8 L92.9,425.0 L93.7,425.3 L94.4,425.5 L95.1,425.6 L95.8,425.4 L96.5,425.5 L97.3,426.0 L98.0,426.2 L98.7,426.4 L99.3,426.0 L99.9,425.4 L100.4,425.0 L101.0,424.2 L101.5,423.2 L102.0,422.7 L102.5,422.4 L103.0,422.1 L103.5,422.0 L103.9,421.7 L104.3,421.3 L104.7,421.0 L105.1,420.1 L105.4,419.1 L105.7,418.8 L106.0,417.9 L106.2,416.7 L106.5,416.1 L106.7,415.6 L106.9,414.9 L107.1,414.2 L107.3,413.4 L107.5,412.5 L107.6,411.6 L107.8,410.8 L108.0,410.1 L108.2,409.2 L108.4,408.2 L108.6,407.9 L108.8,407.8 L108.9,406.9 L109.1,405.9 L109.3,405.0 L109.5,403.9 L109.6,403.0 L109.8,402.5 L110.0,402.1 L110.2,401.5 L110.4,400.6 L110.6,399.8 L110.8,398.6 L111.0,397.9 L111.3,397.8 L111.5,397.4 L111.9,396.0 L112.3,395.0 L112.8,395.2 L113.3,395.1 L113.8,394.8 L114.3,395.0 L114.7,395.9 L115.1,397.0 L115.4,397.6 L115.6,398.3 L115.9,399.6 L116.1,400.1 L116.3,400.4 L116.5,401.4 L116.6,402.5 L116.8,403.7 L117.0,404.2 L117.1,404.1 L117.3,404.5 L117.4,405.2 L117.6,406.2 L117.8,407.1 L117.9,408.0 L118.1,409.0 L118.3,409.5 L118.4,410.1 L118.6,410.6 L118.8,410.7 L118.9,411.5 L119.1,412.9 L119.3,413.7 L119.4,414.4 L119.6,415.1 L119.7,415.6 L119.9,416.1 L120.1,416.4 L120.2,417.3 L120.4,418.7 L120.6,419.2 L120.7,420.0 L120.9,421.5 L121.1,422.2 L121.2,422.3 L121.4,422.8 L121.6,423.5 L121.8,424.3 L122.0,425.3 L122.2,426.2 L122.4,426.9 L122.7,427.9 L122.9,428.9 L123.2,430.0 L123.4,430.2 L123.7,430.1 L124.0,430.7 L124.3,431.1 L124.7,431.6 L125.2,432.7 L125.7,433.2 L126.2,433.8 L126.8,434.5 L127.5,434.5 L128.1,434.6 L128.8,435.5 L129.5,436.3 L130.2,436.1 L130.9,435.7 L131.6,436.0 L132.3,437.0 L133.0,437.8 L133.7,438.0 L134.5,437.9 L135.2,437.8 L135.9,437.4 L136.7,437.4 L137.4,437.3 L138.2,437.0 L138.9,437.1 L139.7,437.2 L140.4,437.1 L141.2,437.5 L141.9,437.9 L142.7,437.6 L143.4,437.2 L144.2,437.4 L144.9,437.9 L145.7,437.6 L146.4,437.1 L147.2,437.4 L147.9,437.8 L148.7,437.5 L149.4,437.8 L150.2,438.2 L150.9,437.6 L151.7,437.0 L152.4,436.7 L153.2,437.0 L153.9,437.5 L154.7,437.1 L155.4,436.3 L156.1,436.3 L156.9,436.6 L157.5,436.5 L158.2,436.0 L158.9,435.7 L159.6,435.3 L160.2,435.1 L160.9,434.9 L161.5,434.4 L162.1,433.6 L162.6,433.1 L163.2,432.6 L163.6,431.8 L164.1,431.4 L164.6,431.3 L165.0,430.8 L165.4,429.8 L165.8,429.0 L166.2,428.3 L166.6,427.5 L166.9,427.0 L167.3,426.6 L167.6,425.8 L168.0,424.7 L168.3,423.7 L168.7,423.1 L169.1,422.9 L169.4,422.5 L169.8,421.7 L170.3,421.0 L170.9,421.0 L171.5,421.4 L172.1,421.4 L172.8,421.3 L173.3,422.0 L173.8,422.4 L174.2,422.8 L174.6,423.7 L174.9,424.3 L175.2,424.8 L175.5,425.5 L175.9,426.4 L176.2,427.1 L176.7,427.4 L177.1,427.7 L177.6,428.5 L178.2,429.6 L178.7,430.4 L179.3,430.8 L179.9,431.3 L180.5,431.2 L181.1,431.2 L181.7,431.6 L182.3,431.6 L182.9,431.6 L183.4,431.4 L183.8,430.5 L184.2,430.2 L184.6,430.1 L184.9,429.1 L185.3,428.1 L185.7,427.5 L186.0,426.6 L186.3,425.9 L186.7,424.9 L187.0,423.9 L187.3,423.7 L187.6,422.8 L187.9,421.9 L188.1,421.7 L188.4,420.9 L188.6,419.9 L188.8,419.2 L189.1,418.4 L189.3,417.4 L189.5,416.6 L189.8,416.2 L190.0,416.1 L190.3,415.5 L190.5,414.9 L190.8,414.3 L191.0,413.2 L191.3,412.2 L191.6,412.0 L192.0,411.9 L192.5,411.4 L193.0,411.0 L193.6,411.1 L194.1,411.6 L194.6,412.2 L195.0,412.6 L195.3,413.0 L195.6,413.4 L195.8,414.2 L196.1,415.5 L196.3,416.6 L196.5,417.3 L196.7,417.5 L196.9,418.0 L197.2,419.1 L197.4,419.7 L197.6,420.1 L197.9,421.2 L198.1,422.5 L198.3,423.0 L198.6,422.9 L198.8,423.4 L199.1,424.3 L199.4,424.7 L199.6,425.2 L199.9,426.0 L200.3,426.4 L200.6,427.1 L200.9,428.5 L201.3,429.8 L201.7,430.4 L202.1,430.8 L202.6,431.4 L203.1,432.3 L203.6,433.0 L204.1,433.0 L204.7,433.0 L205.3,433.4 L206.0,433.8 L206.6,434.4 L207.3,434.7 L208.0,434.7 L208.7,435.4 L209.4,436.1 L210.1,436.4 L210.8,436.3 L211.4,436.1 L212.1,436.2 L212.7,436.7 L213.4,437.6 L214.1,438.4 L214.8,438.4 L215.5,438.1 L216.3,437.9 L217.0,438.3 L217.8,438.0 L218.5,437.4 L219.3,437.4 L220.0,437.9 L220.8,438.5 L221.5,439.1 L222.3,438.8 L223.0,438.2 L223.8,438.6 L224.5,439.0 L225.3,438.8 L226.0,438.9 L226.8,439.3 L227.5,439.5 L228.3,439.2 L229.0,438.9 L229.8,439.0 L230.5,439.2 L231.3,439.2 L232.0,439.4 L232.8,439.6 L233.5,439.4 L234.2,439.0 L235.0,438.9 L235.7,439.0 L236.5,439.1 L237.2,439.3 L238.0,439.4 L238.7,439.0 L239.5,439.0 L240.2,439.4 L241.0,439.2 L241.7,439.2 L242.5,439.8 L243.2,439.4 L244.0,438.5 L244.7,439.0 L245.5,439.9 L246.2,439.9 L247.0,439.8 L247.7,439.9 L248.5,439.6 L249.2,439.5 L250.0,439.7 L250.7,439.9 L251.5,440.3 L252.2,440.4 L253.0,440.3 L253.7,440.3 L254.5,439.9 L255.2,440.1 L256.0,440.6 L256.7,440.6 L257.5,440.4 L258.2,440.1 L259.0,440.0 L259.7,440.1 L260.5,440.2 L261.2,440.2 L262.0,440.4 L262.7,440.8 L263.5,440.9 L264.2,440.7 L265.0,440.8 L265.7,440.7 L266.5,439.9 L267.2,440.0 L268.0,441.0 L268.7,441.3 L269.5,440.8 L270.2,440.5 L271.0,440.0 L271.7,439.9 L272.5,440.1 L273.2,440.2 L274.0,440.5 L274.7,440.5 L275.5,440.9 L276.2,441.7 L277.0,441.5 L277.7,441.0 L278.5,440.7 L279.2,440.2 L280.0,440.2 L280.7,440.8 L281.5,441.0 L282.2,440.7 L283.0,440.6 L283.7,440.4 L284.5,440.0 L285.2,440.5 L286.0,441.0 L286.7,440.9 L287.5,440.8 L288.2,440.8 L289.0,440.6 L289.7,441.1 L290.5,441.6 L291.2,441.6 L292.0,441.2 L292.7,440.5 L293.5,440.1 L294.2,439.9 L295.0,439.9 L295.7,440.2 L296.5,441.0 L297.2,441.1 L298.0,440.7 L298.7,440.5 L299.5,440.1 L300.2,440.0 L301.0,439.8 L301.7,439.7 L302.5,440.2 L303.2,440.5 L304.0,440.3 L304.7,440.1 L305.5,440.0 L306.2,440.2 L307.0,440.3 L307.7,440.3 L308.5,440.1 L309.2,440.5 L310.0,441.0 L310.7,441.3 L311.5,441.2 L312.2,440.6 L313.0,439.9 L313.7,439.7 L314.5,440.4 L315.2,441.3 L316.0,440.9 L316.7,439.7 L317.5,439.6 L318.2,440.0 L319.0,440.0 L319.7,440.3 L320.5,440.3 L321.2,440.2 L322.0,439.9 L322.7,439.5 L323.5,439.5 L324.2,439.9 L325.0,440.1 L325.7,439.7 L326.5,439.9 L327.2,440.4 L328.0,440.4 L328.7,440.3 L329.5,440.0 L330.2,440.2 L331.0,440.8 L331.7,441.1 L332.5,440.9 L333.2,440.6 L334.0,440.1 L334.7,440.1 L335.5,440.5 L336.2,440.5 L336.9,440.5 L337.7,440.6 L338.4,441.0 L339.2,440.7 L339.9,440.0 L340.7,440.1 L341.4,440.0 L342.2,439.6 L342.9,439.5 L343.7,439.3 L344.4,438.7 L345.2,438.4 L345.9,438.6 L346.7,439.0 L347.4,439.3 L348.1,439.2 L348.9,438.7 L349.6,437.9 L350.4,437.5 L351.1,437.9 L351.8,438.0 L352.5,438.1 L353.2,438.0 L353.9,437.3 L354.6,436.3 L355.3,435.8 L356.0,436.1 L356.7,436.0 L357.4,435.6 L358.1,435.3 L358.8,434.8 L359.5,434.9 L360.2,435.5 L360.9,435.2 L361.6,434.7 L362.3,434.3 L362.9,433.8 L363.6,433.7 L364.3,433.7 L365.0,433.0 L365.7,432.4 L366.4,431.9 L367.1,431.0 L367.8,430.0 L368.4,430.1 L369.1,431.2 L369.8,431.2 L370.5,430.3 L371.2,430.0 L371.9,429.8 L372.7,429.7 L373.4,429.8 L374.2,429.4 L374.9,428.6 L375.6,428.8 L376.4,429.9 L377.1,430.6 L377.8,430.5 L378.6,430.1 L379.3,430.0 L380.1,430.2 L380.8,430.5 L381.6,431.2 L382.3,431.5 L383.1,430.7 L383.8,430.0 L384.6,430.1 L385.3,430.2 L386.0,429.8 L386.7,429.4 L387.4,428.9 L388.1,428.3 L388.8,428.5 L389.5,428.4 L390.2,427.5 L390.8,427.2 L391.4,426.9 L392.0,426.0 L392.6,425.3 L393.2,424.7 L393.8,424.2 L394.4,423.8 L395.1,423.5 L395.7,423.3 L396.3,423.1 L397.0,422.4 L397.6,421.9 L398.2,422.2 L398.8,421.7 L399.5,420.7 L400.1,420.5 L400.7,420.2 L401.3,419.6 L401.9,419.1 L402.5,418.9 L403.0,418.5 L403.5,417.9 L404.0,417.5 L404.4,417.0 L404.8,416.4 L405.2,416.0 L405.5,414.9 L405.8,413.8 L406.1,413.4 L406.5,412.9 L406.8,412.2 L407.1,412.0 L407.5,411.8 L407.8,410.8 L408.1,409.6 L408.5,409.0 L408.8,408.6 L409.1,407.5 L409.5,406.2 L409.8,405.6 L410.1,405.5 L410.4,404.8 L410.7,403.4 L411.0,402.9 L411.3,403.0 L411.6,402.2 L411.8,400.9 L412.1,400.3 L412.3,400.0 L412.5,399.0 L412.7,398.0 L412.9,397.1 L413.1,396.4 L413.3,396.0 L413.4,395.3 L413.6,394.3 L413.7,394.0 L413.8,393.7 L414.0,393.0 L414.1,392.1 L414.3,391.3 L414.4,390.6 L414.6,389.9 L414.8,389.4 L415.0,388.2 L415.1,386.9 L415.3,386.1 L415.5,385.6 L415.7,384.9 L415.9,384.1 L416.1,383.7 L416.3,383.4 L416.4,382.7 L416.6,381.9 L416.8,381.1 L416.9,379.8 L417.1,378.6 L417.3,378.2 L417.4,377.7 L417.6,376.5 L417.7,375.9 L417.9,376.3 L418.0,376.1 L418.1,374.8 L418.3,373.2 L418.4,372.7 L418.6,372.4 L418.7,371.2 L418.8,369.9 L419.0,369.1 L419.1,368.2 L419.2,368.0 L419.4,368.3 L419.5,367.3 L419.6,365.4 L419.7,364.6 L419.8,364.4 L419.9,363.9 L420.0,363.2 L420.1,362.3 L420.3,361.5 L420.4,360.8 L420.5,359.5 L420.6,358.3 L420.7,357.8 L420.8,357.4 L420.9,357.0 L421.0,356.4 L421.1,355.8 L421.2,355.0 L421.2,354.3 L421.3,354.2 L421.4,353.8 L421.5,352.6 L421.6,351.6 L421.7,351.1 L421.8,350.3 L421.9,349.2 L422.0,348.1 L422.1,347.0 L422.2,346.4 L422.3,346.3 L422.4,345.7 L422.5,344.4 L422.6,343.6 L422.6,343.1 L422.7,342.1 L422.8,341.2 L422.9,340.2 L423.0,339.3 L423.1,338.9 L423.2,338.9 L423.3,338.8 L423.4,337.8 L423.5,336.4 L423.6,335.9 L423.7,335.8 L423.8,335.1 L423.9,333.8 L424.0,332.4 L424.1,331.3 L424.2,330.8 L424.2,330.2 L424.3,329.7 L424.4,329.1 L424.5,327.8 L424.5,327.1 L424.6,326.9 L424.7,326.5 L424.7,325.7 L424.8,324.1 L424.9,323.2 L424.9,322.9 L425.0,322.2 L425.1,321.2 L425.1,320.6 L425.2,320.0 L425.3,318.9 L425.4,318.3 L425.5,318.5 L425.5,318.1 L425.6,316.7 L425.7,315.2 L425.8,314.1 L425.9,313.3 L426.0,312.6 L426.1,312.4 L426.2,312.2 L426.3,311.2 L426.4,309.9 L426.5,308.9 L426.6,308.5 L426.7,307.9 L426.9,306.9 L427.0,306.0 L427.1,305.2 L427.2,304.2 L427.3,303.8 L427.4,303.7 L427.6,303.5 L427.7,303.0 L427.8,301.3 L427.9,300.2 L428.1,300.0 L428.2,299.5 L428.3,298.1 L428.5,297.2 L428.7,297.2 L428.8,296.8 L429.0,295.7 L429.1,294.8 L429.3,294.1 L429.5,293.2 L429.6,292.5 L429.8,292.0 L430.0,291.5 L430.2,290.4 L430.4,289.7 L430.7,289.5 L431.0,288.9 L431.3,288.4 L431.7,288.7 L432.0,289.2 L432.2,289.7 L432.4,290.8 L432.5,292.0 L432.7,292.2 L432.8,292.1 L433.0,292.7 L433.1,293.6 L433.2,294.0 L433.4,294.5 L433.5,295.4 L433.6,296.6 L433.7,297.5 L433.8,298.4 L434.0,299.4 L434.1,300.0 L434.2,300.7 L434.3,301.7 L434.3,302.5 L434.4,303.0 L434.5,303.0 L434.6,303.3 L434.7,304.3 L434.8,305.1 L434.9,306.3 L435.0,307.6 L435.1,308.1 L435.2,308.4 L435.3,309.0 L435.3,310.0 L435.4,310.7 L435.5,311.2 L435.6,312.2 L435.7,313.0 L435.8,313.8 L435.9,314.9 L435.9,316.0 L436.0,316.8 L436.1,317.2 L436.2,317.8 L436.3,318.9 L436.4,320.1 L436.5,320.7 L436.6,321.1 L436.7,321.9 L436.8,322.6 L436.8,322.8 L436.9,323.5 L437.0,324.5 L437.0,325.5 L437.1,326.0 L437.1,326.4 L437.2,327.1 L437.2,328.2 L437.2,329.6 L437.3,330.3 L437.3,330.3 L437.4,331.6 L437.5,333.6 L437.5,333.8 L437.6,333.8 L437.6,333.9 L437.7,334.4 L437.8,335.9 L437.8,336.6 L437.9,337.0 L438.0,338.0 L438.0,338.5 L438.1,339.1 L438.2,340.3 L438.2,341.2 L438.3,341.6 L438.4,342.1 L438.4,342.4 L438.5,343.4 L438.6,345.0 L438.6,346.2 L438.7,346.7 L438.8,347.1 L438.9,347.6 L438.9,348.2 L439.0,349.2 L439.1,350.3 L439.2,350.9 L439.3,351.5 L439.4,352.0 L439.5,352.8 L439.7,354.1 L439.8,354.5 L439.9,354.8 L440.0,355.6 L440.1,356.3 L440.2,357.0 L440.3,357.9 L440.4,358.9 L440.5,359.5 L440.6,360.0 L440.7,361.2 L440.8,361.9 L440.9,362.3 L441.0,363.3 L441.1,364.6 L441.2,365.4 L441.3,365.7 L441.4,366.4 L441.5,367.3 L441.6,367.9 L441.7,368.5 L441.8,369.3 L441.8,370.0 L441.9,370.0 L442.0,370.5 L442.1,371.8 L442.2,372.8 L442.3,373.8 L442.4,374.7 L442.5,375.5 L442.6,376.4 L442.7,376.9 L442.8,377.7 L442.9,378.7 L443.0,379.3 L443.1,379.8 L443.2,380.3 L443.4,380.8 L443.5,381.6 L443.6,382.7 L443.7,383.6 L443.9,384.3 L444.0,385.5 L444.1,386.9 L444.3,387.5 L444.4,387.7 L444.5,388.4 L444.6,389.2 L444.8,389.9 L444.9,390.6 L445.0,391.3 L445.2,392.0 L445.3,392.5 L445.4,393.0 L445.5,393.9 L445.7,395.0 L445.8,395.9 L445.9,396.5 L446.1,397.3 L446.2,397.9 L446.4,398.0 L446.6,398.7 L446.8,399.8 L447.0,400.3 L447.2,400.9 L447.4,401.9 L447.7,402.5 L447.9,403.2 L448.2,404.2 L448.4,404.5 L448.7,404.9 L448.9,405.8 L449.2,406.7 L449.4,407.5 L449.6,407.9 L449.9,408.7 L450.1,409.3 L450.3,410.1 L450.5,411.3 L450.7,412.0 L450.9,412.3 L451.1,412.8 L451.3,413.7 L451.5,414.5 L451.8,415.4 L452.0,416.0 L452.3,415.6 L452.6,416.1 L452.9,417.3 L453.2,418.0 L453.5,419.0 L453.9,420.0 L454.3,420.9 L454.7,421.9 L455.1,422.8 L455.5,423.5 L456.0,424.0 L456.4,424.5 L456.9,425.0 L457.4,425.3 L457.9,425.2 L458.4,425.3 L458.9,426.0 L459.5,426.6 L460.0,426.8 L460.6,427.6 L461.2,428.5 L461.8,429.2 L462.4,429.5 L463.0,429.7 L463.6,429.7 L464.3,429.9 L464.9,430.9 L465.6,431.4 L466.2,431.4 L466.9,432.1 L467.6,432.6 L468.3,432.5 L469.0,432.6 L469.7,433.3 L470.4,433.8 L471.1,433.6 L471.8,433.7 L472.5,434.5 L473.3,435.0 L474.0,435.1 L474.7,435.0 L475.5,434.8 L476.2,435.0 L476.9,435.3 L477.7,435.9 L478.4,436.6 L479.1,436.1 L479.9,435.7 L480.6,435.8 L481.3,435.8 L482.1,436.3 L482.8,436.6 L483.5,436.5 L484.3,436.4 L485.0,436.6 L485.7,436.9 L486.4,437.5 L487.2,438.2 L487.9,438.2 L488.6,437.6 L489.3,437.8 L490.1,438.9 L490.8,439.2 L491.6,438.9 L492.3,438.7 L493.0,438.7 L493.8,439.0 L494.5,439.5 L495.3,439.1 L496.0,438.4 L496.8,438.1 L497.5,438.2 L498.3,439.2 L499.0,440.1 L499.8,440.6 L500.5,440.5 L501.2,439.8 L502.0,439.8 L502.7,440.3 L503.5,440.2 L504.2,439.9 L505.0,440.2 L505.7,440.5 L506.5,440.5 L507.2,440.2 L508.0,439.8 L508.7,439.7 L509.5,439.6 L510.2,439.6 L511.0,439.9 L511.7,440.3 L512.5,440.6 L513.2,440.9 L514.0,440.9 L514.7,440.3 L515.5,439.9 L516.2,440.3 L517.0,440.4 L517.7,439.6 L518.5,439.3 L519.2,439.4 L520.0,439.5 L520.7,439.7 L521.5,439.8 L522.1,439.9 L522.7,439.7 L523.0,439.9" stroke="#000" stroke-width="2.0" fill="none" stroke-linejoin="round"/>
<g transform="translate(132.30,36.74) scale(1.0016,0.9558)"><text font-family="Liberation Sans, Arial, sans-serif" font-weight="bold" font-size="18.8"><tspan fill="#000">(i) BiVO<tspan font-size="12" dy="5.5">4</tspan><tspan dy="-5.5">; </tspan></tspan><tspan fill="#0000ff">(ii) BiVO<tspan font-size="12" dy="5.5">4</tspan><tspan dy="-5.5">:W</tspan></tspan><tspan fill="#000">; </tspan><tspan fill="#ff0000">(iii) BiVO<tspan font-size="12" dy="5.5">4</tspan><tspan dy="-5.5">:Mo</tspan></tspan></text></g>
<g transform="translate(76.54,196.60) scale(1.0531,1.0045) rotate(-90)"><text font-family="Liberation Sans, Arial, sans-serif" font-weight="bold" font-size="16.5">External mode</text></g>
<g transform="translate(118.54,196.60) scale(1.0204,1.0045) rotate(-90)"><text font-family="Liberation Sans, Arial, sans-serif" font-weight="bold" font-size="16.5">External mode</text></g>
<g transform="translate(139.49,206.43) scale(1.0851,1.0192)"><text font-family="Liberation Sans, Arial, sans-serif" font-weight="bold" font-size="15"><tspan font-family="Liberation Serif, serif" font-size="17">δ</tspan><tspan font-size="11" dy="3.5" dx="-1.5">as</tspan><tspan dy="-3.5" font-weight="normal" stroke="#000" stroke-width="0.45"> (VO</tspan><tspan font-size="11" dy="3.5">4</tspan><tspan dy="-3.5" dx="-1.5" font-weight="normal" stroke="#000" stroke-width="0.45">)</tspan><tspan font-size="11" dy="-7">3-</tspan></text></g>
<g transform="translate(200.67,236.17) scale(1.1024,0.9808)"><text font-family="Liberation Sans, Arial, sans-serif" font-weight="bold" font-size="15"><tspan font-family="Liberation Serif, serif" font-size="17">δ</tspan><tspan font-size="11" dy="3.5" dx="-1.5">s</tspan><tspan dy="-3.5" font-weight="normal" stroke="#000" stroke-width="0.45"> (VO</tspan><tspan font-size="11" dy="3.5">4</tspan><tspan dy="-3.5" dx="-1.5" font-weight="normal" stroke="#000" stroke-width="0.45">)</tspan><tspan font-size="11" dy="-7">3-</tspan></text></g>
<g transform="translate(335.70,241.78) scale(1.0611,1.0333)"><text font-family="Liberation Sans, Arial, sans-serif" font-weight="bold" font-size="15.5"><tspan font-family="Liberation Serif, serif" font-size="19">ν</tspan><tspan font-size="11" dy="3.5" dx="-1.5">as</tspan><tspan dy="-3.5" font-weight="normal" stroke="#000" stroke-width="0.45"> (V-O)</tspan></text></g>
<g transform="translate(436.70,100.57) scale(1.0884,1.0667)"><text font-family="Liberation Sans, Arial, sans-serif" font-weight="bold" font-size="15.5"><tspan font-family="Liberation Serif, serif" font-size="19">ν</tspan><tspan font-size="11" dy="3.5" dx="-1.5">s</tspan><tspan dy="-3.5" font-weight="normal" stroke="#000" stroke-width="0.45"> (V-O)</tspan></text></g>
<g transform="translate(440.20,153.54) scale(1.0026,1.0522)"><text font-family="Liberation Sans, Arial, sans-serif" font-weight="bold" font-size="16" fill="#ff0000">818.1</text></g>
<g transform="translate(443.88,293.05) scale(1.0430,1.0087)"><text font-family="Liberation Sans, Arial, sans-serif" font-weight="bold" font-size="16" fill="#0000ff">816.4</text></g>
<g transform="translate(448.20,386.35) scale(1.0025,0.9913)"><text font-family="Liberation Sans, Arial, sans-serif" font-weight="bold" font-size="16">824.4</text></g>
<g transform="translate(327.97,423.05) scale(0.9703,1.0087)"><text font-family="Liberation Sans, Arial, sans-serif" font-weight="bold" font-size="16">713.1</text></g>
<g transform="translate(268.66,271.02) scale(1.0400,1.0090)"><text font-family="Liberation Sans, Arial, sans-serif" font-weight="bold" font-size="18" fill="#ff0000">(iii)</text></g>
<g transform="translate(270.98,349.22) scale(1.0250,1.0090)"><text font-family="Liberation Sans, Arial, sans-serif" font-weight="bold" font-size="18" fill="#0000ff">(ii)</text></g>
<g transform="translate(274.39,426.25) scale(1.0133,0.9731)"><text font-family="Liberation Sans, Arial, sans-serif" font-weight="bold" font-size="18">(i)</text></g>
<g transform="translate(91.23,479.85) scale(1.0331,0.9965)"><text font-family="Liberation Sans, Arial, sans-serif" font-weight="bold" font-size="20">200</text></g>
<g transform="translate(194.74,479.36) scale(1.0202,0.9684)"><text font-family="Liberation Sans, Arial, sans-serif" font-weight="bold" font-size="20">400</text></g>
<g transform="translate(298.74,479.95) scale(1.0173,1.0105)"><text font-family="Liberation Sans, Arial, sans-serif" font-weight="bold" font-size="20">600</text></g>
<g transform="translate(401.84,479.95) scale(1.0079,1.0105)"><text font-family="Liberation Sans, Arial, sans-serif" font-weight="bold" font-size="20">800</text></g>
<g transform="translate(498.20,479.95) scale(1.0424,1.0105)"><text font-family="Liberation Sans, Arial, sans-serif" font-weight="bold" font-size="20">1000</text></g>
<g transform="translate(175.72,513.77) scale(1.0157,0.9869)"><text font-family="Liberation Sans, Arial, sans-serif" font-weight="bold" font-size="24.5">Raman shift (cm<tspan font-size="16.5" dy="-10.5">-1</tspan><tspan dy="10.5">)</tspan></text></g>
<g transform="translate(27.25,329.38) scale(0.9890,1.0176) rotate(-90)"><text font-family="Liberation Sans, Arial, sans-serif" font-weight="bold" font-size="24.4">Intensity (arb. unit)</text></g>
</svg></body></html>
